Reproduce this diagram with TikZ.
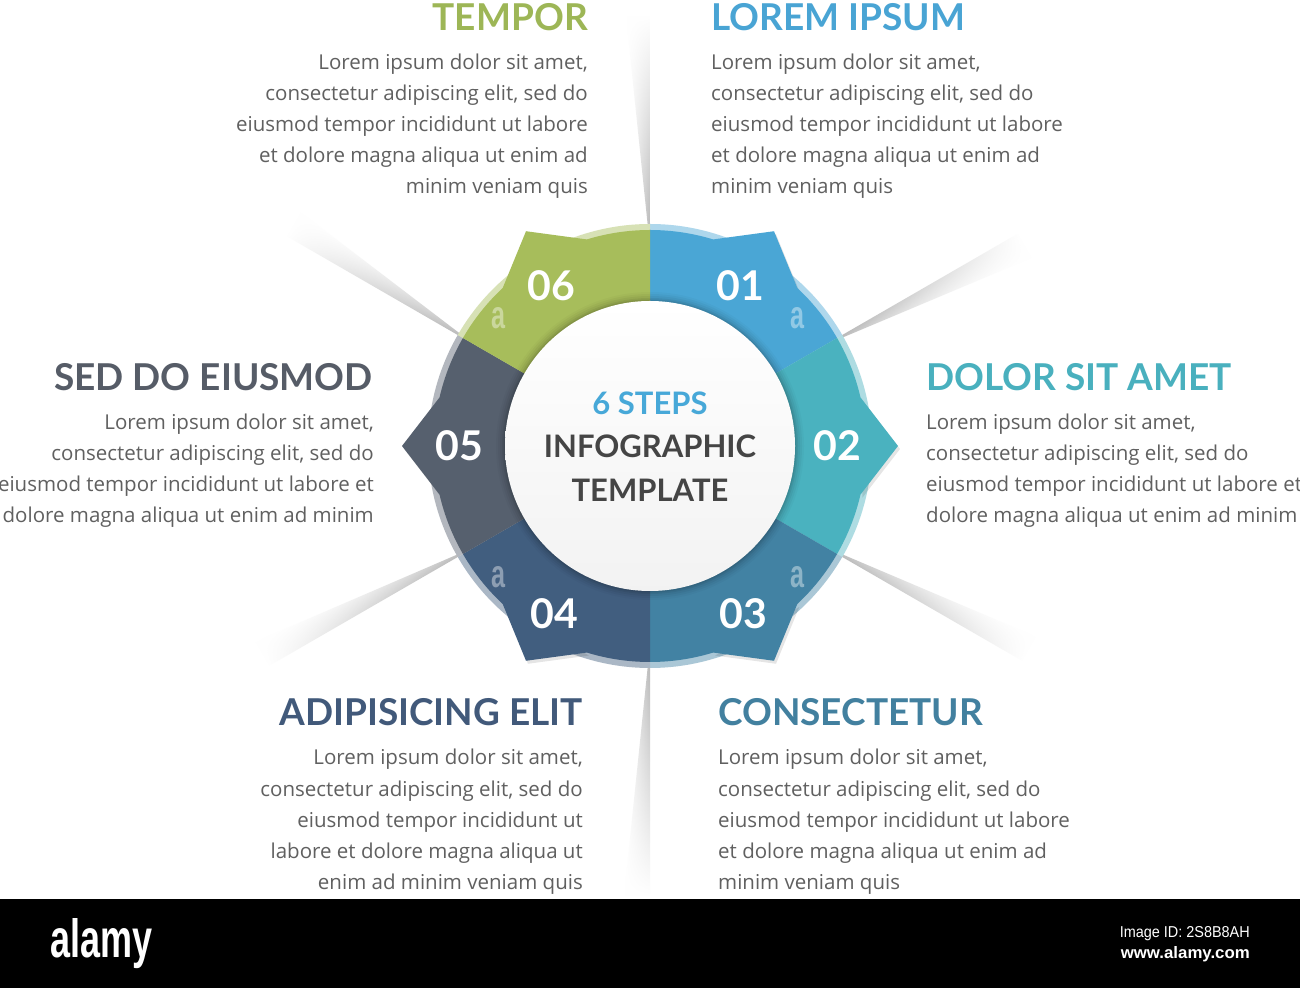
\documentclass[tikz,border=0pt]{standalone}
\usepackage{graphicx}
\usepackage{fontspec}
\setmainfont{Open Sans}
\newfontfamily\lato{Lato}
\newfontfamily\libsans{Liberation Sans}
\usetikzlibrary{fadings}
\definecolor{cA}{HTML}{4AA6D5}
\definecolor{cB}{HTML}{4AB2BF}
\definecolor{cC}{HTML}{4282A3}
\definecolor{cD}{HTML}{415E7F}
\definecolor{cE}{HTML}{56606E}
\definecolor{cF}{HTML}{A7BD5B}
\definecolor{hA}{HTML}{49A4D4}
\definecolor{hB}{HTML}{49B0BE}
\definecolor{hC}{HTML}{42809F}
\definecolor{hD}{HTML}{41597A}
\definecolor{hE}{HTML}{565C67}
\definecolor{hF}{HTML}{9DB656}
\definecolor{bodygray}{HTML}{606060}
\definecolor{centergray}{HTML}{454545}
\definecolor{stepsblue}{HTML}{47A8D8}
\tikzfading[name=fadelen, left color=transparent!0, right color=transparent!100]
\newcommand\bodyblock[5]{%
  \foreach \t [count=\i] in {#5}
    \node[bodytxt, anchor=#4] (#1-\i) at (#2, {988-#3-31*(\i-1)}) {\t};%
}
\begin{document}
\begin{tikzpicture}[x=1pt,y=1pt,
  headtxt/.style={font=\lato\bfseries\fontsize{37}{37}\selectfont, inner sep=0},
  bodytxt/.style={font=\fontsize{20.5}{31}\selectfont, text=bodygray, inner sep=0},
  numtxt/.style={font=\lato\bfseries\fontsize{41}{41}\selectfont, text=white, inner sep=0},
  centxt/.style={font=\lato\bfseries\fontsize{31}{31}\selectfont, inner sep=0},
  wmark/.style={text=white, opacity=.4, inner sep=0, font=\libsans\bfseries},
  bandpos/.style={path fading=fadelen, bottom color=gray!55, top color=white},
  bandneg/.style={path fading=fadelen, top color=gray!55, bottom color=white},
]
\useasboundingbox (0,0) rectangle (1300,988);
\fill[white] (0,0) rectangle (1300,988);
\coordinate (C) at (650,542);

% radial shadow bands
\foreach \ang/\sty/\len/\w/\wn in {30/bandneg/425/-28/-2, 90/bandpos/430/24/2, 150/bandneg/420/-28/-2, 210/bandneg/440/-28/-2, 270/bandneg/450/-26/-2, 330/bandpos/430/28/2}{
  \begin{scope}[transform canvas={shift={(650pt,542pt)}, rotate=\ang}]
    \shade[\sty] (218,0) -- (\len,0) -- (\len,\w) -- (218,\wn) -- cycle;
  \end{scope}
}

% ring
\begin{scope}[shift={(650,542)}]
  \foreach \m/\c in {60/cA,0/cB,-60/cC,-120/cD,180/cE,120/cF}{
    \fill[\c!45!white] (0,0) -- ({\m+30}:222) arc[start angle={\m+30}, end angle={\m-30}, radius=222] -- cycle;
  }
  \foreach \m in {60,0,-60,-120,180,120}{
    \fill[black, opacity=.10] ([shift={(2,-3)}]{\m+13}:216) -- ([shift={(2,-3)}]\m:248) -- ([shift={(2,-3)}]{\m-13}:216) -- cycle;
  }
  \foreach \m/\c in {60/cA,0/cB,-60/cC,-120/cD,180/cE,120/cF}{
    \fill[\c] (0,0) -- ({\m+30}:216) arc[start angle={\m+30}, end angle={\m+13}, radius=216]
      -- (\m:248) -- ({\m-13}:216) arc[start angle={\m-13}, end angle={\m-30}, radius=216] -- cycle;
  }
\end{scope}

% centre disc
\foreach \r/\o in {154/.025,152/.035,150/.045,148/.06,146.5/.07}{
  \fill[black, opacity=\o] (C) circle (\r);
}
\shade[top color=white, bottom color=gray!10] (C) circle (145);

% numbers
\node[numtxt] (n1) at (740,702) {01};
\node[numtxt] (n2) at (837,542) {02};
\node[numtxt] (n3) at (743,374) {03};
\node[numtxt] (n4) at (554,374) {04};
\node[numtxt] (n5) at (459,542) {05};
\node[numtxt] (n6) at (551,702) {06};

% watermark a's
\node[wmark] (wa1) at (797,670) {\resizebox{14pt}{21pt}{a}};
\node[wmark] (wa2) at (797,411) {\resizebox{14pt}{21pt}{a}};
\node[wmark] (wa3) at (498,411) {\resizebox{14pt}{21pt}{a}};
\node[wmark] (wa4) at (498,670) {\resizebox{14pt}{21pt}{a}};

% centre text
\node[centxt, text=stepsblue] (c1) at (650,585) {6 STEPS};
\node[centxt, text=centergray] (c2) at (650,542) {INFOGRAPHIC};
\node[centxt, text=centergray] (c3) at (650,498) {TEMPLATE};

% headings
\node[headtxt, text=hF, anchor=base east] (h6) at (588,957) {TEMPOR};
\node[headtxt, text=hA, anchor=base west] (h1) at (711,957) {LOREM IPSUM};
\node[headtxt, text=hB, anchor=base west] (h2) at (926,597) {DOLOR SIT AMET};
\node[headtxt, text=hE, anchor=base east] (h5) at (373,597) {SED DO EIUSMOD};
\node[headtxt, text=hD, anchor=base east] (h4) at (583,262) {ADIPISICING ELIT};
\node[headtxt, text=hC, anchor=base west] (h3) at (718,262) {CONSECTETUR};

% body texts
\bodyblock{b6}{588}{70}{base east}{{Lorem ipsum dolor sit amet,},{consectetur adipiscing elit, sed do},{eiusmod tempor incididunt ut labore},{et dolore magna aliqua ut enim ad},{minim veniam quis}}
\bodyblock{b1}{711}{70}{base west}{{Lorem ipsum dolor sit amet,},{consectetur adipiscing elit, sed do},{eiusmod tempor incididunt ut labore},{et dolore magna aliqua ut enim ad},{minim veniam quis}}
\bodyblock{b2}{926}{430}{base west}{{Lorem ipsum dolor sit amet,},{consectetur adipiscing elit, sed do},{eiusmod tempor incididunt ut labore et},{dolore magna aliqua ut enim ad minim}}
\bodyblock{b5}{374}{430}{base east}{{Lorem ipsum dolor sit amet,},{consectetur adipiscing elit, sed do},{eiusmod tempor incididunt ut labore et},{dolore magna aliqua ut enim ad minim}}
\bodyblock{b4}{583}{765}{base east}{{Lorem ipsum dolor sit amet,},{consectetur adipiscing elit, sed do},{eiusmod tempor incididunt ut},{labore et dolore magna aliqua ut},{enim ad minim veniam quis}}
\bodyblock{b3}{718}{765}{base west}{{Lorem ipsum dolor sit amet,},{consectetur adipiscing elit, sed do},{eiusmod tempor incididunt ut labore},{et dolore magna aliqua ut enim ad},{minim veniam quis}}

% stock bar
\fill[black] (0,0) rectangle (1300,89);
\node[text=white, inner sep=0, anchor=base west, font=\libsans\bfseries] (al) at (50,31) {\resizebox{102pt}{39pt}{alamy}};
\node[text=white, inner sep=0, anchor=base east, font=\libsans] (aid) at (1250,51) {\resizebox{130pt}{11pt}{Image ID: 2S8B8AH}};
\node[text=white, inner sep=0, anchor=base east, font=\libsans\bfseries] (aw) at (1250,30) {\resizebox{129pt}{12pt}{www.alamy.com}};
\end{tikzpicture}
\end{document}
